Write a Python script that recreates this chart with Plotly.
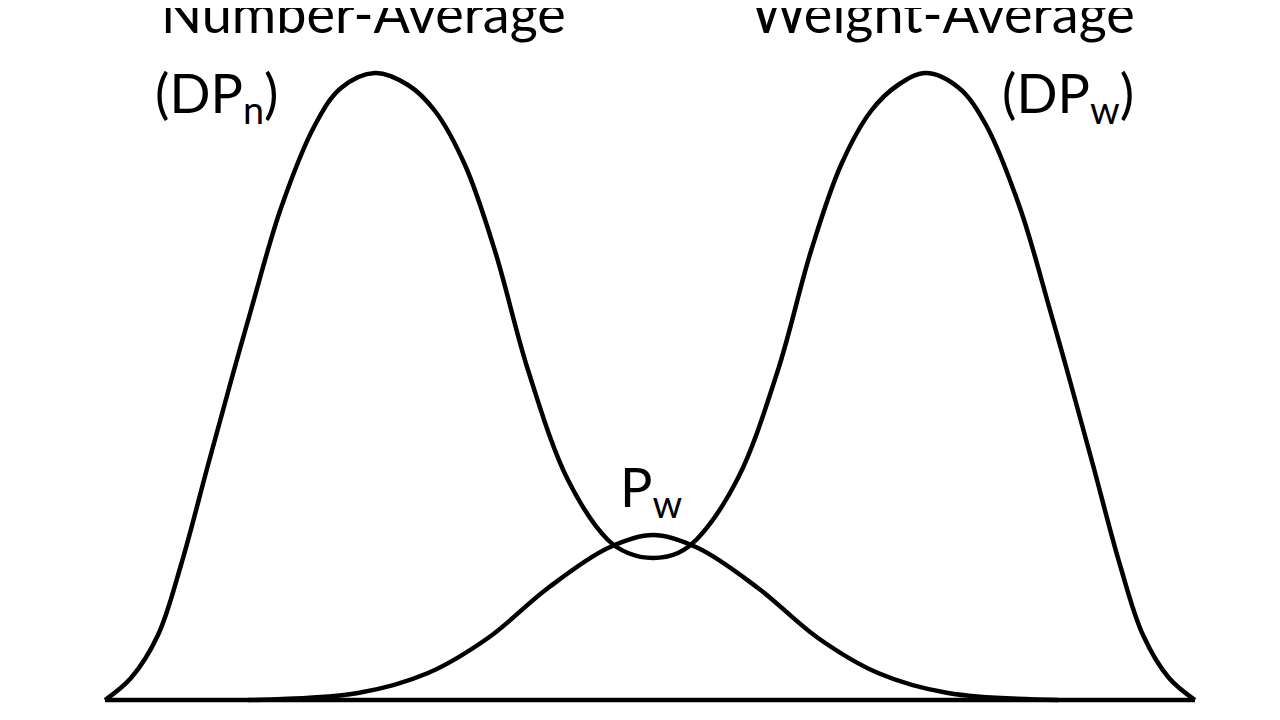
import plotly.graph_objects as go

# bimodal curve (number / weight average)
dist_x = [97, 123, 150, 173, 200, 223, 243, 273, 307, 333, 367, 400, 427, 457,
          487, 520, 560, 600, 620, 645, 670, 690, 730, 770, 803, 833, 863, 890, 918,
          951, 978, 1012, 1042, 1062, 1085, 1112, 1135, 1161, 1187]
dist_h = [0, 22, 65, 135, 235, 319, 390, 492, 575, 612, 627, 615, 589, 535,
          449, 330, 220, 160, 147, 142, 147, 162, 222, 330, 449, 535, 589, 615, 627,
          612, 575, 492, 390, 319, 235, 135, 65, 22, 0]

# small central peak
pw_x = [240, 350, 420, 480, 540, 600, 645, 690, 750, 810, 870, 940, 1050]
pw_h = [0, 7, 27, 62, 112, 152, 165, 152, 112, 62, 27, 7, 0]

base_x = [97, 1187]
base_h = [0, 0]

fig = go.Figure()
line = dict(color="black", width=4.5, shape="spline", smoothing=1.0)
fig.add_trace(go.Scatter(x=dist_x, y=dist_h, mode="lines", line=line))
fig.add_trace(go.Scatter(x=pw_x, y=pw_h, mode="lines", line=line))
fig.add_trace(go.Scatter(x=base_x, y=base_h, mode="lines",
                         line=dict(color="black", width=4.5)))

font = dict(family="Lato, Open Sans, sans-serif", size=54, color="black")
labels = [
    (355, 688, "Number-Average"),
    (208, 604, "(DP<sub>n</sub>)"),
    (935, 688, "Weight-Average"),
    (1060, 604, "(DP<sub>w</sub>)"),
    (643, 210, "P<sub>w</sub>"),
]
for x, y, t in labels:
    fig.add_annotation(x=x, y=y, text=t, showarrow=False, font=font)

fig.update_layout(
    width=1280, height=720, margin=dict(l=0, r=0, t=0, b=0),
    plot_bgcolor="white", paper_bgcolor="white", showlegend=False,
    xaxis=dict(range=[0, 1280], visible=False),
    yaxis=dict(range=[-28, 692], visible=False),
)
fig.write_html("out.html")
